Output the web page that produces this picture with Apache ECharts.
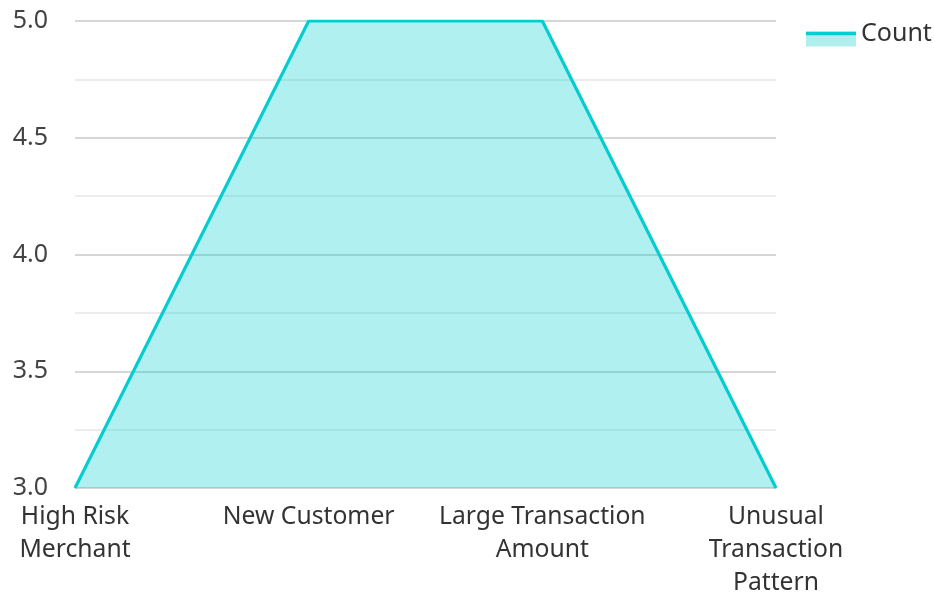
<!DOCTYPE html>
<html>
<head>
<meta charset="utf-8">
<script src="https://cdn.jsdelivr.net/npm/echarts@6/dist/echarts.min.js"></script>
<style>html,body{margin:0;padding:0;background:#fff;width:100%;height:100%;overflow:hidden}#c{width:100%;height:100%}</style>
</head>
<body>
<div id="c"></div>
<script>
var categories = ['High Risk Merchant', 'New Customer', 'Large Transaction Amount', 'Unusual Transaction Pattern'];
var countValues = [3, 5, 5, 3];
var seriesName = 'Count';

function wrap(s, maxChars) {
  var words = s.split(' '), lines = [], cur = '';
  words.forEach(function (w) {
    if (!cur) cur = w;
    else if ((cur + ' ' + w).length <= maxChars) cur += ' ' + w;
    else { lines.push(cur); cur = w; }
  });
  if (cur) lines.push(cur);
  return lines.join('\n');
}

var chart = echarts.init(document.getElementById('c'));
var font = 'Noto Sans';
var lineColor = '#00CED1';
chart.setOption({
  animation: false,
  grid: { left: 75, right: 158, top: 21, bottom: 104, outerBoundsMode: 'none', containLabel: false },
  legend: [{
    data: [seriesName],
    left: 801, top: 21,
    icon: 'rect', itemWidth: 50, itemHeight: 15, itemGap: 10,
    itemStyle: { color: '#b0efee' },
    textStyle: { fontFamily: font, fontSize: 25, color: 'rgba(0,0,0,0)', lineHeight: 26 }
  }, {
    data: [seriesName],
    left: 801, top: 15.5,
    icon: 'rect', itemWidth: 50, itemHeight: 3.5, itemGap: 10,
    itemStyle: { color: lineColor },
    textStyle: { fontFamily: font, fontSize: 25, color: '#333', lineHeight: 26 }
  }],
  xAxis: {
    type: 'category', data: categories, boundaryGap: false,
    axisLine: { show: false }, axisTick: { show: false },
    axisLabel: {
      fontFamily: font, fontSize: 24.7, color: '#333', lineHeight: 33, margin: 12,
      interval: 0,
      formatter: function (v) { return wrap(v, 17); }
    },
    splitLine: { show: false }
  },
  yAxis: {
    type: 'value', min: 3, max: 5, interval: 0.5,
    axisLine: { show: false }, axisTick: { show: false },
    axisLabel: { fontFamily: font, fontSize: 25, color: '#444', margin: 27,
      formatter: function (v) { return v.toFixed(1); } },
    splitLine: { lineStyle: { color: '#c8c8c8', width: 1.5 } },
    minorTick: { show: false, splitNumber: 2 },
    minorSplitLine: { show: true, lineStyle: { color: '#e6e6e6', width: 1.5 } }
  },
  series: [{
    name: seriesName, type: 'line', data: countValues,
    symbol: 'none',
    lineStyle: { color: lineColor, width: 3.2 },
    itemStyle: { color: lineColor },
    areaStyle: { color: lineColor, opacity: 0.31 }
  }]
});
</script>
</body>
</html>
